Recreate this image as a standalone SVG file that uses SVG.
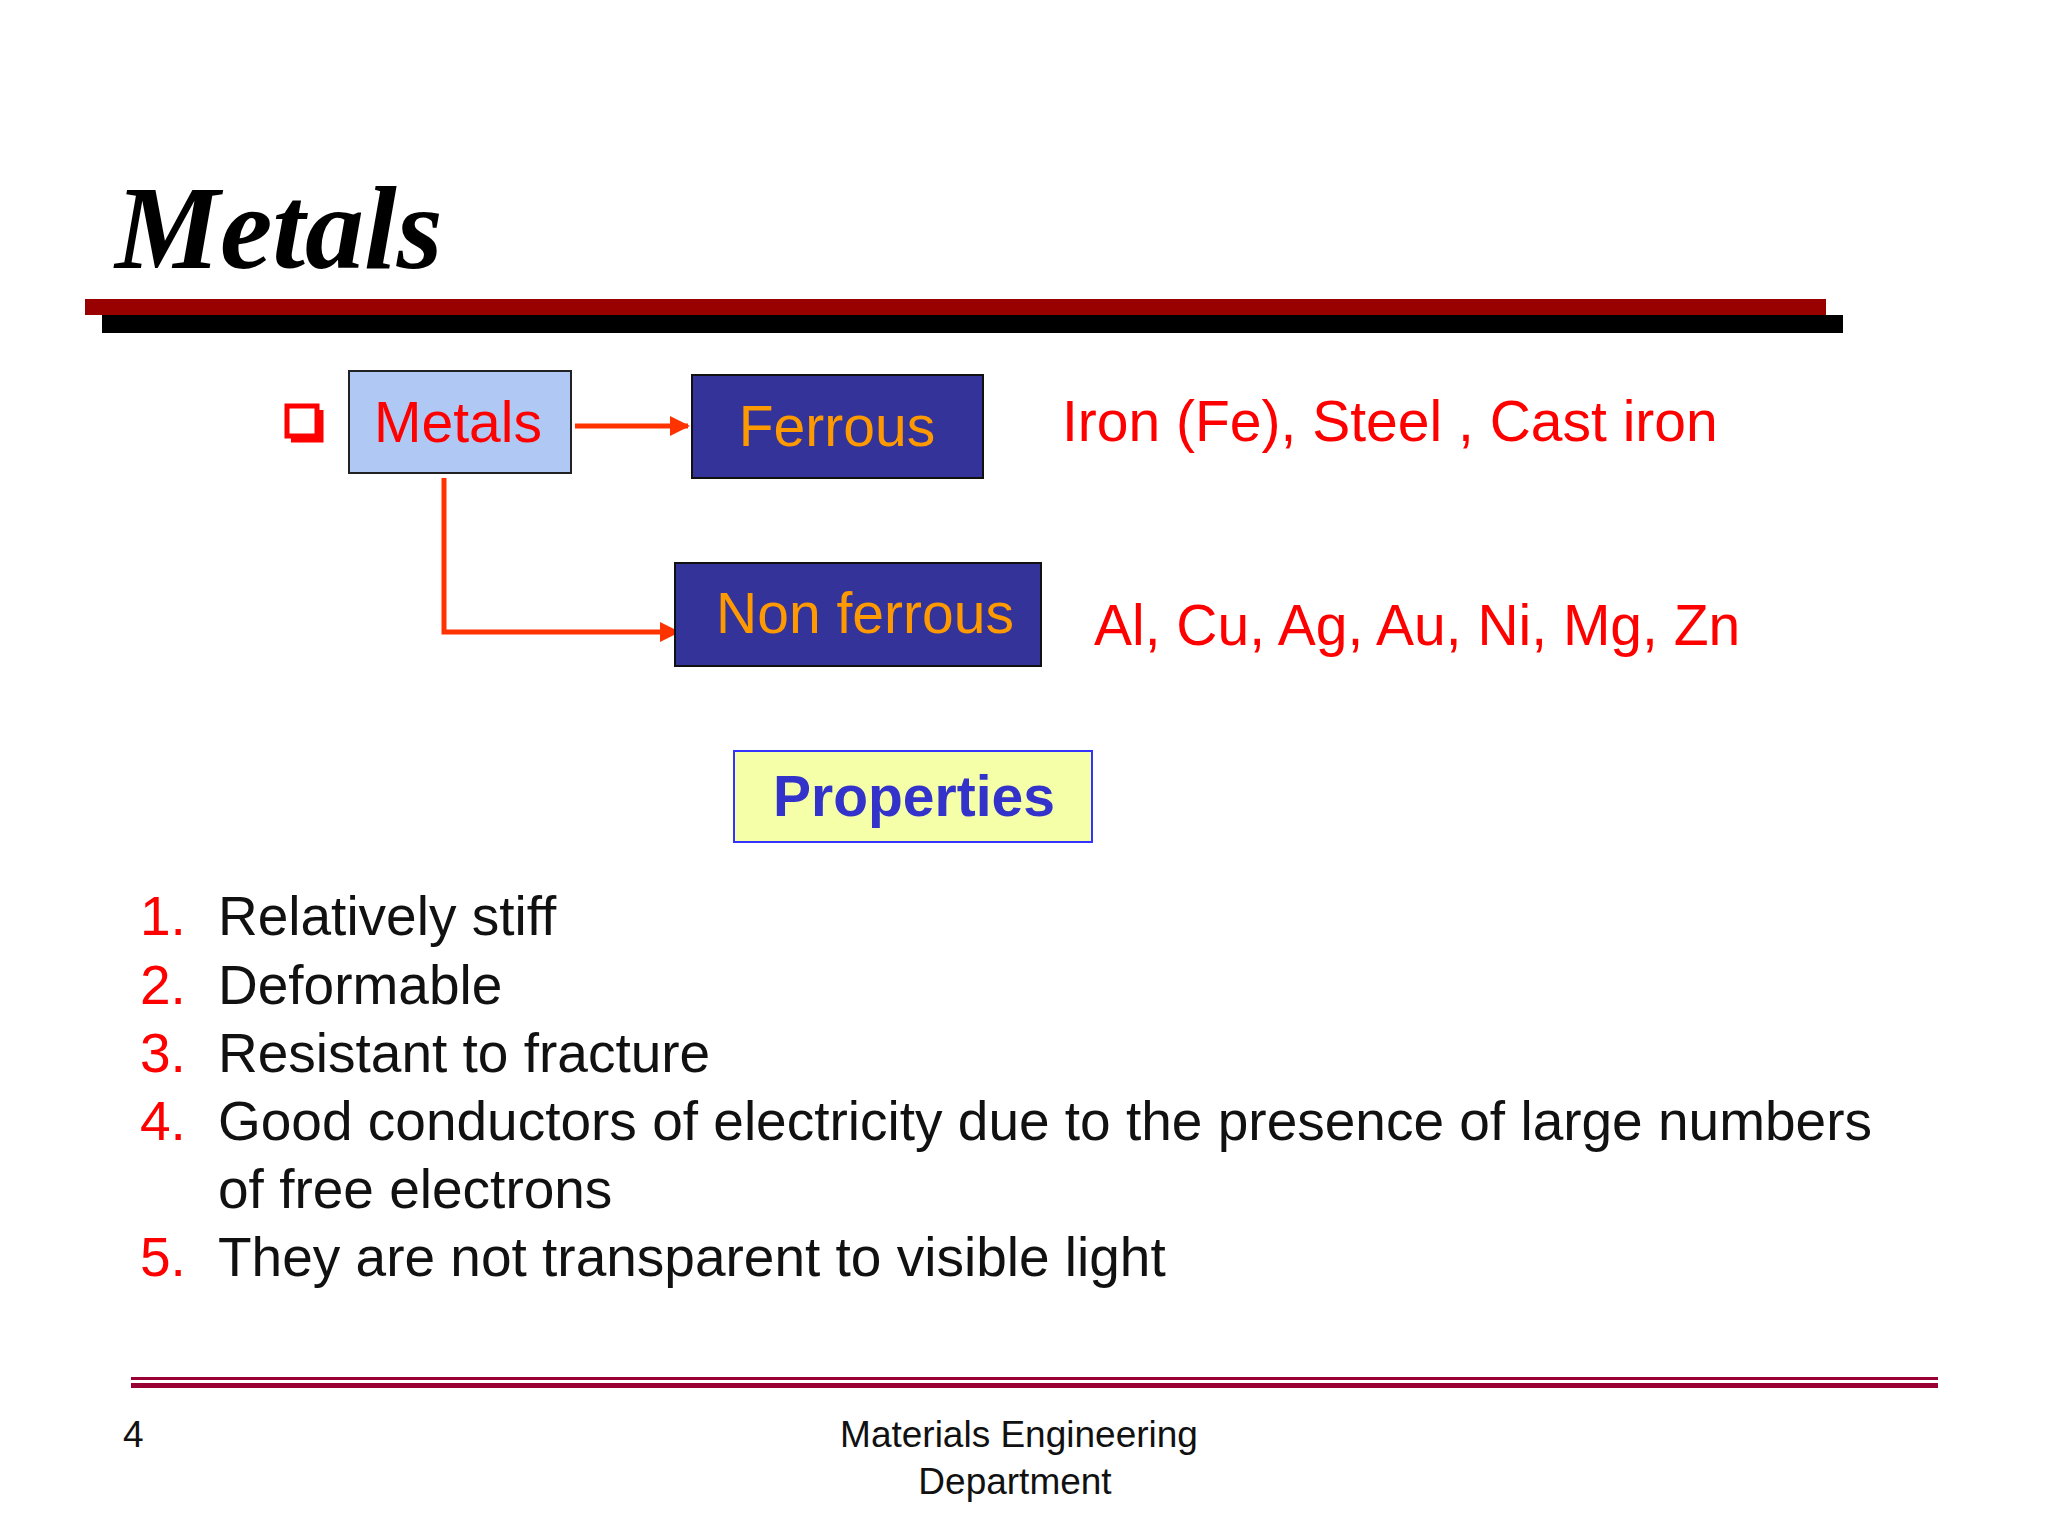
<svg xmlns="http://www.w3.org/2000/svg" width="2048" height="1536" viewBox="0 0 2048 1536">
<defs>
<style>
.s{font-family:"Liberation Sans",Arial,sans-serif}
.big{font-size:57px}
.red{fill:#FF0000}
.org{fill:#FF9900}
.lst{font-size:55px;fill:#111}
.ft{font-size:37px;fill:#111}
</style>
<marker id="ah" viewBox="0 0 10 10" refX="9" refY="5" markerWidth="4" markerHeight="4" orient="auto"><path d="M0,0L10,5L0,10z" fill="#FF3300"/></marker>
</defs>
<rect width="2048" height="1536" fill="#fff"/>
<text x="115" y="268" font-family="Liberation Serif,serif" font-style="italic" font-weight="bold" font-size="118" fill="#000">Metals</text>
<rect x="85" y="299" width="1741" height="16" fill="#990000"/>
<rect x="102" y="315" width="1741" height="18" fill="#000"/>
<rect x="287" y="406" width="30" height="30" fill="none" stroke="#FF0000" stroke-width="5"/>
<path d="M321,410V440H291" fill="none" stroke="#FF0000" stroke-width="5"/>
<g id="connectors" stroke="#FF3300" stroke-width="5" fill="none">
<path d="M575,426H688" marker-end="url(#ah)"/>
<path d="M444,478V632H678" marker-end="url(#ah)"/>
</g>
<g id="metals"><rect x="349" y="371" width="222" height="102" fill="#B0C8F4" stroke="#222" stroke-width="2"/><text x="458" y="442" text-anchor="middle" class="s big red">Metals</text></g>
<g id="ferrous"><rect x="692" y="375" width="291" height="103" fill="#333399" stroke="#111" stroke-width="2"/><text x="837" y="446" text-anchor="middle" class="s big org">Ferrous</text></g>
<text x="1062" y="441" class="s big red">Iron (Fe), Steel , Cast iron</text>
<g id="nonferrous"><rect x="675" y="563" width="366" height="103" fill="#333399" stroke="#111" stroke-width="2"/><text x="865" y="633" text-anchor="middle" class="s big org">Non ferrous</text></g>
<text x="1094" y="645" class="s big red">Al, Cu, Ag, Au, Ni, Mg, Zn</text>
<g id="properties"><rect x="734" y="751" width="358" height="91" fill="#F4FFA8" stroke="#3333FF" stroke-width="2"/><text x="914" y="816" text-anchor="middle" class="s big" font-weight="bold" fill="#3333CC">Properties</text></g>
<g class="s lst">
<text x="140" y="935" class="red">1.</text><text x="218" y="935">Relatively stiff</text>
<text x="140" y="1004" class="red">2.</text><text x="218" y="1004">Deformable</text>
<text x="140" y="1072" class="red">3.</text><text x="218" y="1072">Resistant to fracture</text>
<text x="140" y="1140" class="red">4.</text><text x="218" y="1140">Good conductors of electricity due to the presence of large numbers</text>
<text x="218" y="1208">of free electrons</text>
<text x="140" y="1276" class="red">5.</text><text x="218" y="1276">They are not transparent to visible light</text>
</g>
<rect x="131" y="1377" width="1807" height="3" fill="#990033"/>
<rect x="131" y="1383" width="1807" height="5" fill="#990033"/>
<text x="123" y="1447" class="s ft">4</text>
<text x="1019" y="1447" text-anchor="middle" class="s ft">Materials Engineering</text>
<text x="1015" y="1494" text-anchor="middle" class="s ft">Department</text>
</svg>
